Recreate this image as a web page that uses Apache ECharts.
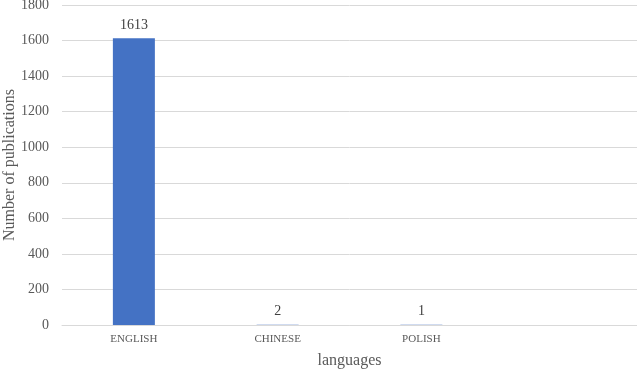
<!DOCTYPE html>
<html>
<head>
<meta charset="utf-8">
<script src="https://cdn.jsdelivr.net/npm/echarts@6/dist/echarts.min.js"></script>
<style>
html,body{margin:0;padding:0;background:#fff;}
#chart{width:637px;height:369px;}
</style>
</head>
<body>
<div id="chart"></div>
<script>
const categories = ['ENGLISH', 'CHINESE', 'POLISH', ''];
const publications = [1613, 2, 1, null];
const yTicks = [0, 200, 400, 600, 800, 1000, 1200, 1400, 1600, 1800];

const chart = echarts.init(document.getElementById('chart'));
const serif = '"Liberation Serif", "Times New Roman", serif';
chart.setOption({
  animation: false,
  grid: { left: 62, right: 0, top: 5, bottom: 44, containLabel: false, outerBoundsMode: 'none' },
  xAxis: {
    type: 'category',
    data: categories,
    name: 'languages',
    nameLocation: 'middle',
    nameGap: 28,
    nameMoveOverlap: false,
    nameTextStyle: { fontFamily: serif, fontSize: 16, color: '#595959' },
    axisLine: { show: true, lineStyle: { color: '#d9d9d9', width: 1 } },
    axisTick: { show: false },
    axisLabel: { fontFamily: serif, fontSize: 11, color: '#595959', margin: 9 }
  },
  yAxis: {
    type: 'value',
    min: yTicks[0],
    max: yTicks[yTicks.length - 1],
    interval: 200,
    name: 'Number of publications',
    nameLocation: 'middle',
    nameGap: 44,
    nameMoveOverlap: false,
    nameTextStyle: { fontFamily: serif, fontSize: 16, color: '#595959' },
    axisLine: { show: false },
    axisTick: { show: false },
    axisLabel: { fontFamily: serif, fontSize: 14, color: '#595959', margin: 13, formatter: function (v) { return String(v); } },
    splitLine: { lineStyle: { color: '#d9d9d9', width: 1 } }
  },
  series: [{
    type: 'bar',
    data: publications,
    barWidth: 42,
    itemStyle: { color: '#4472C4' },
    label: {
      show: true,
      position: 'top',
      distance: 6,
      fontFamily: serif,
      fontSize: 14,
      color: '#404040'
    }
  }]
});
</script>
</body>
</html>
